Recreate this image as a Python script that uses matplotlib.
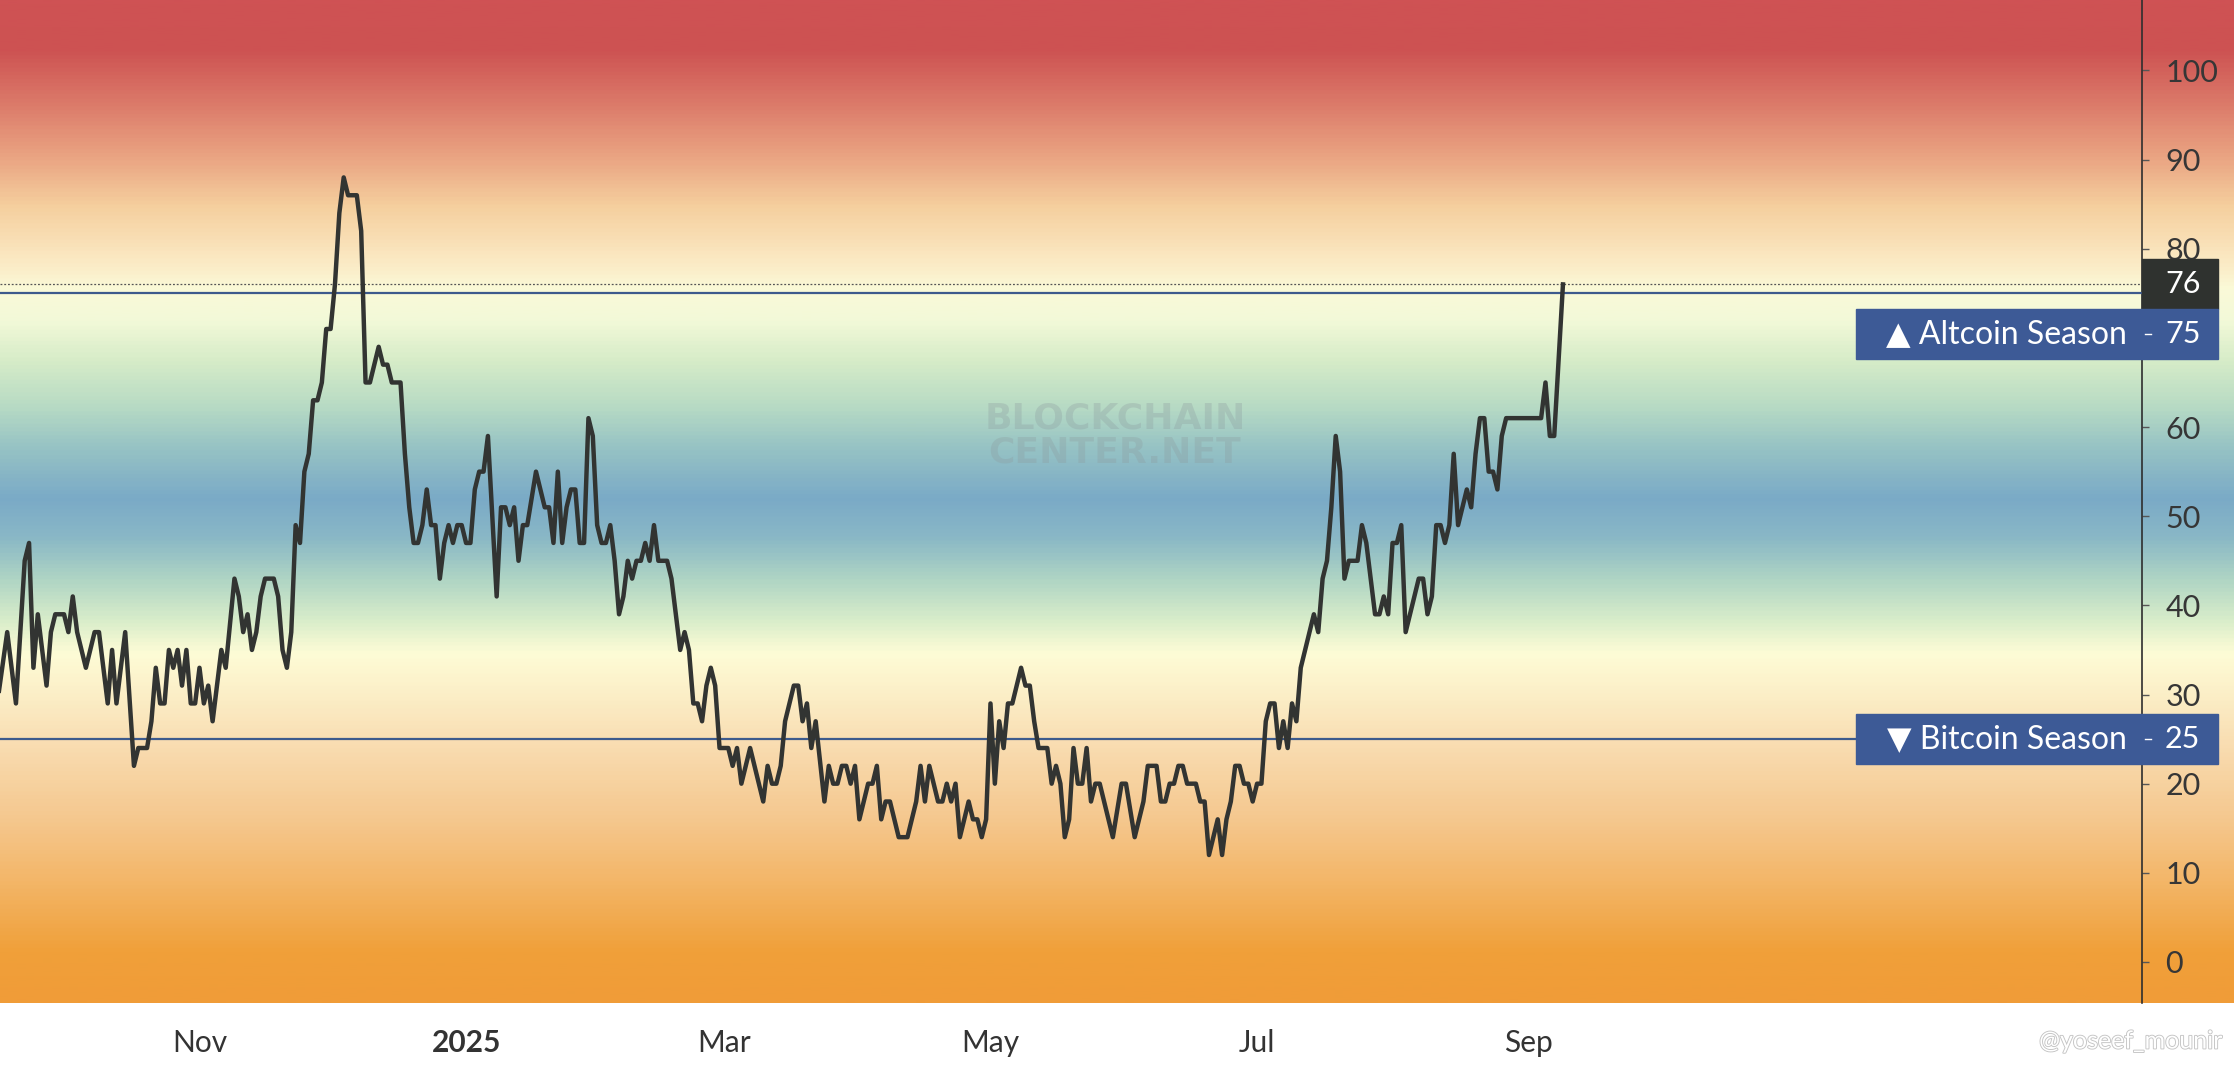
import datetime as dt

import numpy as np
import matplotlib
matplotlib.use("Agg")
import matplotlib.pyplot as plt
import matplotlib.dates as mdates
import matplotlib.transforms as mtransforms
from matplotlib.colors import LinearSegmentedColormap
from matplotlib.patches import Rectangle
from matplotlib import patheffects

# Altcoin season index, day offsets counted from 1 Nov 2024
start_date = dt.date(2024, 11, 1)
day_offsets = [
    -46, -44, -42, -40, -39, -38, -37, -35, -34, -33,
    -31, -30, -29, -28, -26, -24, -23, -21, -20, -19,
    -17, -15, -14, -12, -11, -10, -9, -8, -7, -6,
    -5, -4, -3, -2, -1, 0, 1, 2, 3, 5,
    6, 8, 9, 10, 11, 12, 13, 14, 15, 17,
    18, 19, 20, 21, 22, 23, 24, 25, 26, 27,
    28, 29, 30, 31, 32, 33, 34, 36, 37, 38,
    39, 41, 42, 43, 44, 46, 47, 48, 49, 50,
    51, 52, 53, 54, 55, 56, 57, 58, 59, 60,
    61, 62, 63, 64, 65, 66, 68, 69, 70, 71,
    72, 73, 74, 75, 77, 79, 80, 81, 82, 83,
    84, 85, 86, 87, 88, 89, 90, 91, 92, 93,
    94, 95, 96, 97, 98, 99, 100, 101, 102, 103,
    104, 105, 107, 108, 110, 111, 112, 113, 114, 115,
    116, 117, 118, 119, 121, 122, 123, 124, 126, 129,
    130, 131, 132, 133, 134, 135, 136, 137, 138, 139,
    140, 141, 143, 144, 145, 146, 147, 148, 149, 150,
    151, 153, 154, 155, 156, 157, 158, 160, 162, 164,
    165, 166, 167, 169, 170, 171, 172, 173, 174, 176,
    177, 178, 179, 180, 181, 182, 183, 184, 185, 186,
    188, 189, 190, 191, 192, 194, 195, 196, 197, 198,
    199, 200, 201, 202, 203, 204, 205, 206, 209, 211,
    212, 214, 216, 217, 219, 220, 221, 222, 223, 224,
    225, 226, 228, 229, 230, 231, 233, 234, 235, 236,
    237, 238, 239, 240, 241, 242, 243, 244, 245, 246,
    247, 248, 249, 250, 251, 252, 253, 254, 255, 256,
    257, 258, 259, 260, 261, 262, 263, 265, 266, 267,
    269, 270, 271, 272, 273, 274, 275, 276, 277, 279,
    280, 281, 282, 283, 284, 285, 286, 287, 288, 289,
    290, 291, 292, 293, 294, 295, 296, 297, 298, 299,
    307, 308, 309, 310, 312,
]
index_values = [
    30, 37, 29, 45, 47, 33, 39, 31, 37, 39,
    39, 37, 41, 37, 33, 37, 37, 29, 35, 29,
    37, 22, 24, 24, 27, 33, 29, 29, 35, 33,
    35, 31, 35, 29, 29, 33, 29, 31, 27, 35,
    33, 43, 41, 37, 39, 35, 37, 41, 43, 43,
    41, 35, 33, 37, 49, 47, 55, 57, 63, 63,
    65, 71, 71, 76, 84, 88, 86, 86, 82, 65,
    65, 69, 67, 67, 65, 65, 57, 51, 47, 47,
    49, 53, 49, 49, 43, 47, 49, 47, 49, 49,
    47, 47, 53, 55, 55, 59, 41, 51, 51, 49,
    51, 45, 49, 49, 55, 51, 51, 47, 55, 47,
    51, 53, 53, 47, 47, 61, 59, 49, 47, 47,
    49, 45, 39, 41, 45, 43, 45, 45, 47, 45,
    49, 45, 45, 43, 35, 37, 35, 29, 29, 27,
    31, 33, 31, 24, 24, 22, 24, 20, 24, 18,
    22, 20, 20, 22, 27, 29, 31, 31, 27, 29,
    24, 27, 18, 22, 20, 20, 22, 22, 20, 22,
    16, 20, 20, 22, 16, 18, 18, 14, 14, 18,
    22, 18, 22, 18, 18, 20, 18, 20, 14, 18,
    16, 16, 14, 16, 29, 20, 27, 24, 29, 29,
    33, 31, 31, 27, 24, 24, 20, 22, 20, 14,
    16, 24, 20, 20, 24, 18, 20, 20, 14, 20,
    20, 14, 18, 22, 22, 18, 18, 20, 20, 22,
    22, 20, 20, 18, 18, 12, 16, 12, 16, 18,
    22, 22, 20, 20, 18, 20, 20, 27, 29, 29,
    24, 27, 24, 29, 27, 33, 35, 37, 39, 37,
    43, 45, 51, 59, 55, 43, 45, 45, 49, 47,
    39, 39, 41, 39, 47, 47, 49, 37, 39, 43,
    43, 39, 41, 49, 49, 47, 49, 57, 49, 51,
    53, 51, 57, 61, 61, 55, 55, 53, 59, 61,
    61, 65, 59, 59, 76,
]

tick_dates = [dt.date(2024, 11, 1), dt.date(2025, 1, 1), dt.date(2025, 3, 1),
              dt.date(2025, 5, 1), dt.date(2025, 7, 1), dt.date(2025, 9, 1)]
tick_labels = ["Nov", "2025", "Mar", "May", "Jul", "Sep"]
# 70 sits under the "Altcoin Season" label on the price scale
y_ticks = [0, 10, 20, 30, 40, 50, 60, 80, 90, 100]
altcoin_level = 75
bitcoin_level = 25

# background colour bands (index value -> colour)
grad_levels = [-4.6, 1, 8.5, 16, 24, 29, 34.5, 38.3, 43, 47.5, 52, 58, 62,
               67.5, 72, 75.5, 79, 85, 90.3, 96.4, 102.5, 107.9]
grad_colors = ["#f09c38", "#f0a03a", "#f3b566", "#f5c88f", "#f9dcb0", "#fbecc4",
               "#fefcd6", "#d8edca", "#aed4c4", "#8ab8c6", "#7aaac7", "#98c4c4",
               "#b5d9c4", "#d6ecc8", "#f2f9d8", "#fafad8", "#fbe8c2", "#f5cf9e",
               "#eaa583", "#dc7b6a", "#cd5252", "#cf5254"]

plt.rcParams["font.family"] = ["Lato", "DejaVu Sans"]

W, H = 2234, 1068
ymin, ymax = grad_levels[0], grad_levels[-1]
fig = plt.figure(figsize=(W / 100, H / 100), dpi=100)
fig.patch.set_facecolor("white")

bottom = 65 / H
height = 1003 / H
ax_bg = fig.add_axes([0, bottom, 1, height], zorder=0)
ax = fig.add_axes([0, bottom, 2142 / W, height], zorder=1)

# gradient background
span = ymax - ymin
stops = [((lv - ymin) / span, c) for lv, c in zip(grad_levels, grad_colors)]
cmap = LinearSegmentedColormap.from_list("season", stops)
vals = np.linspace(ymin, ymax, 800)
ax_bg.imshow(vals[:, None], aspect="auto", cmap=cmap, vmin=ymin, vmax=ymax,
             origin="lower", extent=(0, 1, ymin, ymax), interpolation="bilinear")
ax_bg.set_xlim(0, 1)
ax_bg.set_ylim(ymin, ymax)
ax_bg.axis("off")

# main series
base = mdates.date2num(start_date)
x = base + np.array(day_offsets, dtype=float)
ax.patch.set_visible(False)
ax.plot(x, index_values, color="#323432", lw=3.2, solid_joinstyle="round", zorder=4)

ax.axhline(altcoin_level, color="#3d5a8c", lw=1.6, zorder=3)
ax.axhline(bitcoin_level, color="#3d5a8c", lw=1.6, zorder=3)
ax.axhline(index_values[-1], color="#555555", lw=0.9, ls=(0, (1.5, 1.5)), zorder=3)

ax.set_xlim(base - 45.65, base + 444.5)
ax.set_ylim(ymin, ymax)

for side in ["top", "left", "bottom"]:
    ax.spines[side].set_visible(False)
ax.spines["right"].set_color("#2e2e2e")
ax.spines["right"].set_linewidth(1.2)

ax.yaxis.tick_right()
ax.set_yticks(y_ticks)
ax.tick_params(axis="y", length=5, width=1, color="#555555", pad=12,
               labelsize=22, labelcolor="#363636")
ax.set_xticks([mdates.date2num(d) for d in tick_dates])
ax.set_xticklabels(tick_labels)
ax.tick_params(axis="x", length=0, pad=19, labelsize=21.5, labelcolor="#333333")
for lab in ax.get_xticklabels():
    if lab.get_text() == "2025":
        lab.set_fontweight("bold")

# price-scale labels
trans = mtransforms.blended_transform_factory(ax.transAxes, ax.transData)
box_h = 50 / (1003 / span)
x_axis = 1.0
x_right = 2218 / 2142
x_left_blue = 1856 / 2142
x_num = 2165 / 2142

last = index_values[-1]
ax.add_patch(Rectangle((x_axis, last - box_h / 2), x_right - x_axis, box_h,
                       transform=trans, color="#2f322f", clip_on=False, zorder=6))
ax.text(x_num, last, str(last), transform=trans, ha="left", va="center",
        color="white", fontsize=22, zorder=7, clip_on=False)

alt_c = last - box_h
for centre, label, level in [(alt_c, "\u25b2 Altcoin Season", altcoin_level),
                             (bitcoin_level, "\u25bc Bitcoin Season", bitcoin_level)]:
    ax.add_patch(Rectangle((x_left_blue, centre - box_h / 2), x_right - x_left_blue, box_h,
                           transform=trans, color="#3d5a96", clip_on=False, zorder=6))
    ax.text(2127 / 2142, centre, label, transform=trans, ha="right", va="center",
            color="white", fontsize=23, zorder=7, clip_on=False)
    ax.text(x_num, centre, str(level), transform=trans, ha="left", va="center",
            color="white", fontsize=22, zorder=7, clip_on=False)
    ax.plot([1.0012, 1.0040], [centre, centre], transform=trans, color="white",
            lw=1, zorder=7, clip_on=False)

# watermarks
ax.text(1115 / 2142, 61.0, "BLOCKCHAIN", transform=trans, ha="center", va="center",
        fontsize=26, fontweight="bold", family="DejaVu Sans", color="#8c9a9e",
        alpha=0.3, zorder=2)
ax.text(1115 / 2142, 57.1, "CENTER.NET", transform=trans, ha="center", va="center",
        fontsize=26, fontweight="bold", family="DejaVu Sans", color="#8c9a9e",
        alpha=0.3, zorder=2)
fig.text(2222 / W, 1 - 1041 / H, "@yoseef_mounir", ha="right", va="center",
         fontsize=18, color="white",
         path_effects=[patheffects.Stroke(linewidth=1.3, foreground="#c4c4c4"),
                       patheffects.Normal()])

fig.savefig("out.png", dpi=100)
